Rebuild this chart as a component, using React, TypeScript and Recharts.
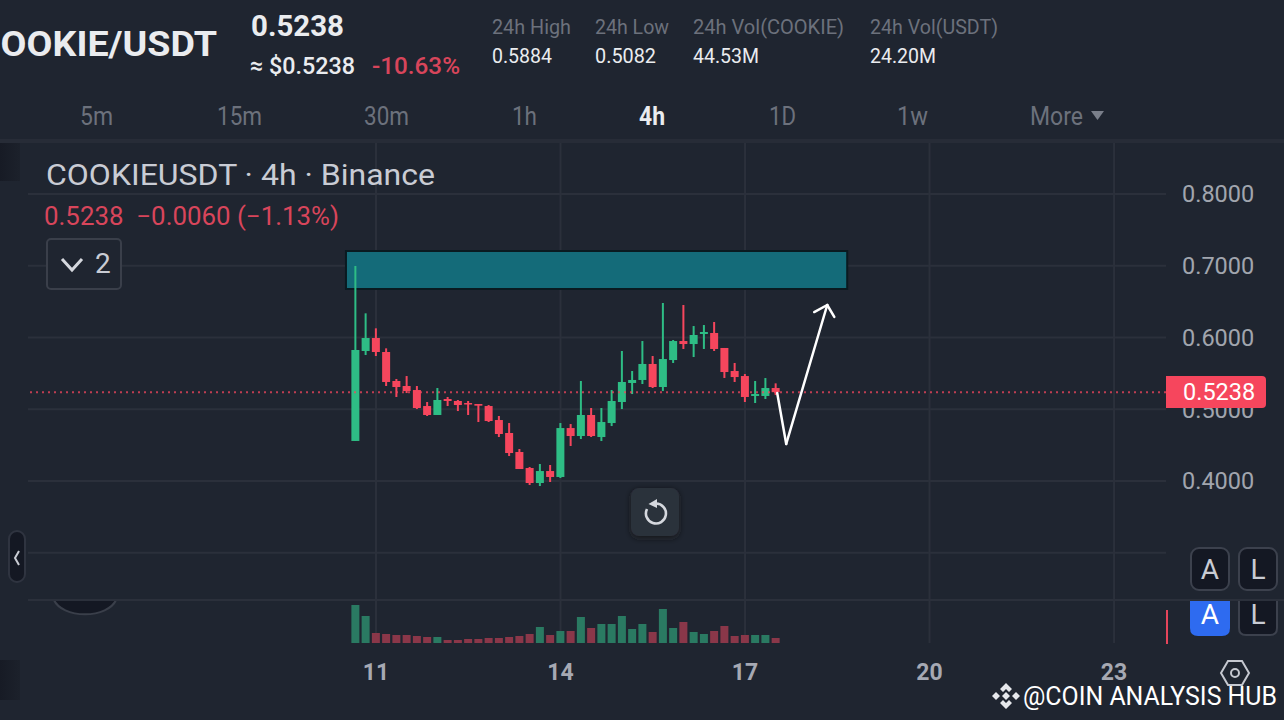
import React from "react";
import { ComposedChart, Bar, XAxis, YAxis, CartesianGrid, ReferenceLine, ReferenceArea } from "recharts";

const candleIndex = Array.from({ length: 42 }, (_, i) => i);
const opens = [0.4558,0.5812,0.5993,0.5798,0.5394,0.5324,0.5268,0.5045,0.4920,0.5143,0.5115,0.5087,0.5073,0.5045,0.4850,0.4669,0.4404,0.4181,0.3972,0.4139,0.4056,0.4738,0.4627,0.4920,0.4613,0.4808,0.5101,0.5366,0.5408,0.5631,0.5310,0.5686,0.5951,0.5909,0.6049,0.6063,0.5854,0.5533,0.5463,0.5185,0.5185,0.5296];
const closes = [0.5826,0.5993,0.5798,0.5380,0.5310,0.5254,0.5017,0.4920,0.5129,0.5115,0.5059,0.5073,0.5050,0.4836,0.4655,0.4390,0.4167,0.3972,0.4139,0.4056,0.4738,0.4627,0.4920,0.4627,0.4822,0.5115,0.5380,0.5408,0.5631,0.5310,0.5700,0.5951,0.5909,0.6035,0.6077,0.5840,0.5519,0.5449,0.5171,0.5212,0.5296,0.5238];
const highs = [0.6997,0.6337,0.6128,0.5849,0.5422,0.5463,0.5324,0.5101,0.5296,0.5171,0.5129,0.5115,0.5073,0.5059,0.4906,0.4808,0.4446,0.4195,0.4237,0.4223,0.4808,0.4794,0.5394,0.5017,0.5017,0.5268,0.5812,0.5533,0.5951,0.5742,0.6481,0.5965,0.6453,0.6160,0.6174,0.6216,0.5854,0.5645,0.5491,0.5394,0.5435,0.5361];
const lows = [0.4558,0.5756,0.5742,0.5324,0.5171,0.5226,0.5003,0.4906,0.4920,0.5045,0.4975,0.4920,0.4822,0.4822,0.4613,0.4348,0.4167,0.3944,0.3930,0.3986,0.4042,0.4488,0.4585,0.4613,0.4557,0.4766,0.5003,0.5212,0.5352,0.5296,0.5254,0.5645,0.5840,0.5728,0.5840,0.5812,0.5436,0.5380,0.5101,0.5087,0.5143,0.5198];
const volumes = [19,13.5,5,4.5,4,4,3.5,3,3,1.5,1.5,2,2,2.5,2.5,3,3.5,4.5,8,4,6,6,13,7.5,9.5,9.5,13.5,7,9.5,5.5,17,7.5,10.5,5.5,4.5,6,8.5,3.5,4,4,4,2.5];

const priceTicks = [0.4, 0.5, 0.6, 0.7, 0.8];
const priceGrid = [0.3, 0.4, 0.5, 0.6, 0.7, 0.8];
const dayTicks = [2, 20, 38, 56, 74];
const dayLabels: Record<number, string> = { 2: "11", 20: "14", 38: "17", 56: "20", 74: "23" };
const lastPrice = 0.5238;
const zone = { x1: -0.93, x2: 47.97, y1: 0.6676, y2: 0.7206 };
const arrowPath = [{ x: 41.14, y: 0.5226 }, { x: 42.02, y: 0.4516 }, { x: 46.02, y: 0.6453 }];
const arrowHead = [{ x: 44.75, y: 0.6355 }, { x: 46.02, y: 0.6453 }, { x: 46.71, y: 0.6286 }];

const stats = [["24h High", "0.5884"], ["24h Low", "0.5082"], ["24h Vol(COOKIE)", "44.53M"], ["24h Vol(USDT)", "24.20M"]];
const tabs = ["5m", "15m", "30m", "1h", "4h", "1D", "1w", "More"];

const data = candleIndex.map((i) => ({
  i, open: opens[i], close: closes[i], high: highs[i], low: lows[i], volume: volumes[i],
}));

const UP = "#2ebd85";
const DOWN = "#f6465d";
const BG = "#1f2530";
const GRID = "#2b303b";
const X_DOMAIN = [-31.95, 79.07];
const Y_DOMAIN = [0.1742, 0.8725];

function Candle(props: any) {
  const { x, y, width, height, payload } = props;
  const ppu = height / (payload.high - payload.low);
  const up = payload.close >= payload.open;
  const color = up ? UP : DOWN;
  const top = y + (payload.high - Math.max(payload.open, payload.close)) * ppu;
  const bh = Math.max(Math.abs(payload.close - payload.open) * ppu, 1.5);
  const cx = x + width / 2;
  return (
    <g>
      <rect x={cx - 1} y={y} width={2} height={height} fill={color} />
      <rect x={x} y={top} width={width} height={bh} fill={color} />
    </g>
  );
}

function VolBar(props: any) {
  const { x, y, width, height, payload } = props;
  return <rect x={x} y={y} width={width} height={height} fill={payload.close >= payload.open ? "#2a7a62" : "#8a3749"} />;
}

const T = (p: any) => <text fontFamily="Roboto, sans-serif" {...p} />;

export default function App() {
  return (
    <div style={{ position: "fixed", left: 0, top: 0, width: 1284, height: 720, background: BG, overflow: "hidden" }}>
      <div style={{ position: "absolute", left: 0, top: 0 }}>
        <ComposedChart width={1284} height={720} data={data} margin={{ top: 142, left: 28, right: 0, bottom: 0 }}>
          <CartesianGrid stroke={GRID} strokeWidth={2} horizontalValues={priceGrid} verticalValues={dayTicks} syncWithTicks={false} />
          <XAxis
            dataKey="i" type="number" domain={X_DOMAIN} allowDataOverflow ticks={dayTicks} height={77}
            tickFormatter={(v: number) => dayLabels[v]} axisLine={false} tickLine={false} tickMargin={15}
            tick={{ fill: "#a6a9b3", fontSize: 23, fontWeight: 700, fontFamily: "Roboto, sans-serif" }} interval={0}
          />
          <YAxis
            orientation="right" domain={Y_DOMAIN} allowDataOverflow ticks={priceTicks} width={118}
            tickFormatter={(v: number) => v.toFixed(4)} axisLine={false} tickLine={false} tickMargin={10} interval={0}
            tick={{ fill: "#a1a5ae", fontSize: 23.5, fontFamily: "Roboto, sans-serif", textAnchor: "start" }}
          />
          <YAxis yAxisId="vol" hide domain={[0, 250.5]} allowDataOverflow />
          <ReferenceArea x1={zone.x1} x2={zone.x2} y1={zone.y1} y2={zone.y2} fill="#146b79" fillOpacity={1} stroke="#0a1a20" strokeWidth={2} ifOverflow="visible" />
          <Bar yAxisId="vol" dataKey="volume" barSize={8} shape={<VolBar />} isAnimationActive={false} />
        </ComposedChart>
      </div>
      <div style={{ position: "absolute", left: 0, top: 0 }}>
        <ComposedChart width={1284} height={720} data={data} margin={{ top: 142, left: 28, right: 118, bottom: 77 }}>
          <XAxis dataKey="i" type="number" domain={X_DOMAIN} allowDataOverflow hide />
          <YAxis orientation="right" domain={Y_DOMAIN} allowDataOverflow hide />
          <ReferenceLine y={lastPrice} stroke={DOWN} strokeWidth={2} strokeDasharray="2 4" strokeOpacity={0.75} />
          <Bar dataKey={(d: any) => [d.low, d.high]} barSize={8} shape={<Candle />} isAnimationActive={false} />
          {[arrowPath, arrowHead].flatMap((pts, k) =>
            pts.slice(1).map((p, j) => (
              <ReferenceLine key={`${k}-${j}`} segment={[pts[j], p]} stroke="#ffffff" strokeWidth={2.5} strokeLinecap="round" />
            ))
          )}
        </ComposedChart>
      </div>
      <svg width={1284} height={720} style={{ position: "absolute", left: 0, top: 0 }}>
        <defs>
          <linearGradient id="lf" x1="0" x2="1" y1="0" y2="0">
            <stop offset="0" stopColor="#171b25" />
            <stop offset="1" stopColor="#1c212b" />
          </linearGradient>
          <filter id="sh" x="-30%" y="-30%" width="160%" height="160%">
            <feDropShadow dx="0" dy="2" stdDeviation="3" floodColor="#12151c" floodOpacity="0.8" />
          </filter>
        </defs>
        {/* header */}
        <rect x={0} y={139} width={1284} height={4} fill="#272c37" />
        <rect x={0} y={143} width={20} height={38} fill="url(#lf)" />
        <rect x={0} y={660} width={20} height={40} fill="url(#lf)" />
        <T x={-24} y={56} fontSize={35} fontWeight={700} fill="#eaecef" textLength={241} lengthAdjust="spacingAndGlyphs">COOKIE/USDT</T>
        <T x={251} y={36} fontSize={29.5} fontWeight={700} fill="#eaecef" textLength={93} lengthAdjust="spacingAndGlyphs">0.5238</T>
        <T x={250} y={74} fontSize={24.5} fontWeight={500} fill="#eaecef" textLength={105} lengthAdjust="spacingAndGlyphs">≈ $0.5238</T>
        <T x={372} y={74} fontSize={24.5} fontWeight={500} fill="#d8455b" textLength={88} lengthAdjust="spacingAndGlyphs">-10.63%</T>
        {stats.map((s, k) => {
          const xs = [492, 595, 693, 870];
          const lw = [79, 74, 151, 128];
          const vw = [60, 61, 66, 66];
          return (
            <g key={s[0]}>
              <T x={xs[k]} y={34} fontSize={21} fill="#6c717c" textLength={lw[k]} lengthAdjust="spacingAndGlyphs">{s[0]}</T>
              <T x={xs[k]} y={63} fontSize={20} fill="#eaecef" textLength={vw[k]} lengthAdjust="spacingAndGlyphs">{s[1]}</T>
            </g>
          );
        })}
        {tabs.map((t, k) => {
          const xs = [80, 217, 364, 512, 639, 769, 897, 1030];
          const w = [33, 45, 45, 25, 26, 27, 31, 53];
          const active = t === "4h";
          return (
            <T key={t} x={xs[k]} y={125} fontSize={25} fontWeight={active ? 700 : 400} fill={active ? "#eaecef" : "#6c717c"} textLength={w[k]} lengthAdjust="spacingAndGlyphs">{t}</T>
          );
        })}
        <path d="M1091 111 L1104 111 L1097.5 120 Z" fill="#7a7f8a" />

        {/* legend */}
        <T x={46} y={185} fontSize={30} fill="#c9ccd4" textLength={389} lengthAdjust="spacingAndGlyphs">COOKIEUSDT · 4h · Binance</T>
        <T x={44} y={225} fontSize={25} fill="#d8455b" textLength={295} lengthAdjust="spacingAndGlyphs" xmlSpace="preserve">0.5238  −0.0060 (−1.13%)</T>
        <rect x={47} y={239} width={74} height={50} rx={4} fill={BG} stroke="#3a3f4a" strokeWidth={2} />
        <path d="M62 259 L72 270 L82 259" fill="none" stroke="#d5d8de" strokeWidth={3} />
        <T x={95} y={273} fontSize={28} fill="#c9ccd4">2</T>

        {/* price tag */}
        <path d="M1166 376 H1262 Q1266 376 1266 380 V404 Q1266 408 1262 408 H1166 Z" fill={DOWN} />
        <T x={1183} y={400} fontSize={23.5} fill="#ffffff">0.5238</T>

        {/* left controls */}
        <path d="M54 600 A32 19 0 0 0 116 600 Z" fill="#141823" stroke="#3a3f4a" strokeWidth={2} />
        <rect x={28} y={599} width={1256} height={2} fill={GRID} />
        <rect x={9} y={531} width={16} height={51} rx={8} fill="#141823" stroke="#2f3440" strokeWidth={2} />
        <path d="M19 551 L15 558 L19 565" fill="none" stroke="#c9ccd4" strokeWidth={2} />

        {/* reload button */}
        <rect x={631} y={488} width={48} height={48} rx={8} fill="#2b303b" filter="url(#sh)" />
        <path d="M656 503.5 A10 10 0 1 1 647 509" fill="none" stroke="#d5d8de" strokeWidth={2.6} />
        <path d="M648.5 504 L657 499 L657 508 Z" fill="#d5d8de" />

        {/* scale buttons */}
        <rect x={1191} y={548} width={38} height={42} rx={8} fill="#141823" stroke="#3c414d" strokeWidth={2} />
        <rect x={1239} y={548} width={38} height={42} rx={8} fill="#141823" stroke="#3c414d" strokeWidth={2} />
        <path d="M1190 601 H1230 V628 Q1230 636 1222 636 H1198 Q1190 636 1190 628 Z" fill="#2e6bf0" />
        <path d="M1239 601 V628 Q1239 635 1246 635 H1270 Q1277 635 1277 628 V601" fill="#141823" stroke="#3c414d" strokeWidth={2} />
        <T x={1210} y={579} fontSize={28} fill="#c9ccd4" textAnchor="middle">A</T>
        <T x={1258} y={579} fontSize={28} fill="#c9ccd4" textAnchor="middle">L</T>
        <T x={1210} y={624} fontSize={28} fill="#ffffff" textAnchor="middle">A</T>
        <T x={1258} y={624} fontSize={28} fill="#c9ccd4" textAnchor="middle">L</T>
        <rect x={1166} y={610} width={2} height={34} fill="#e5455b" />

        {/* settings icon */}
        <path d="M1221 673 L1228 661 H1242 L1249 673 L1242 685 H1228 Z" fill="none" stroke="#c5c8d0" strokeWidth={2} />
        <circle cx={1235} cy={673} r={4} fill="none" stroke="#c5c8d0" strokeWidth={2} />

        {/* watermark */}
        <g fill="#e6e8ec">
          <path d="M1006 683 L1012 689 L1009 692 L1006 689 L1003 692 L1000 689 Z" />
          <path d="M1006 709 L1012 703 L1009 700 L1006 703 L1003 700 L1000 703 Z" />
          <path d="M996 692 L1000 696 L996 700 L992 696 Z" />
          <path d="M1016 692 L1020 696 L1016 700 L1012 696 Z" />
          <path d="M1006 692 L1010 696 L1006 700 L1002 696 Z" />
        </g>
        <T x={1023} y={705} fontSize={26} fill="#ffffff" textLength={254} lengthAdjust="spacingAndGlyphs">@COIN ANALYSIS HUB</T>
      </svg>
    </div>
  );
}
